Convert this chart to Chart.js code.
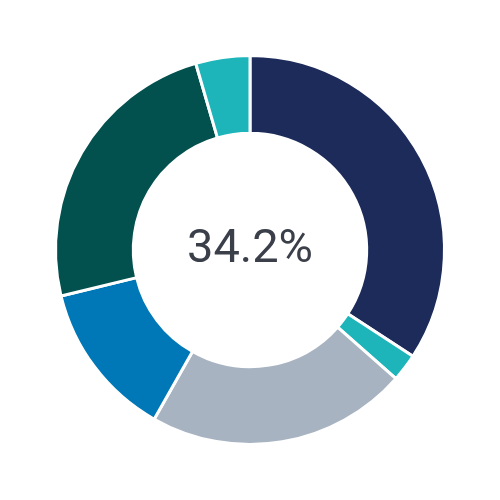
<!DOCTYPE html>
<html>
<head>
<meta charset="utf-8">
<script src="https://cdn.jsdelivr.net/npm/chart.js@4"></script>
<style>
html,body{margin:0;padding:0;background:#fff;}
#wrap{position:relative;width:500px;height:500px;}
#center{position:absolute;left:0;top:-5px;width:500px;height:500px;display:flex;align-items:center;justify-content:center;font-family:Roboto,"Liberation Sans",sans-serif;font-size:47px;color:#3a3f4a;pointer-events:none;}
</style>
</head>
<body>
<div id="wrap"><canvas id="c" width="500" height="500"></canvas><div id="center"></div></div>
<script>
const categories = ["A", "B", "C", "D", "E", "F"];
const values = [34.2, 2.3, 21.7, 13.0, 24.3, 4.5];
const colors = ["#1c2b5a", "#1db5b9", "#a8b3c2", "#0077b6", "#03514f", "#1db5b9"];
const centerLabel = "34.2%";

document.getElementById('center').textContent = centerLabel;

new Chart(document.getElementById('c'), {
  type: 'doughnut',
  data: {
    labels: categories,
    datasets: [{
      data: values,
      backgroundColor: colors,
      borderColor: '#ffffff',
      borderWidth: 3,
      hoverOffset: 0
    }]
  },
  options: {
    responsive: false,
    animation: false,
    cutout: '60%',
    layout: { padding: 54 },
    plugins: { legend: { display: false }, tooltip: { enabled: false } }
  }
});
</script>
</body>
</html>
